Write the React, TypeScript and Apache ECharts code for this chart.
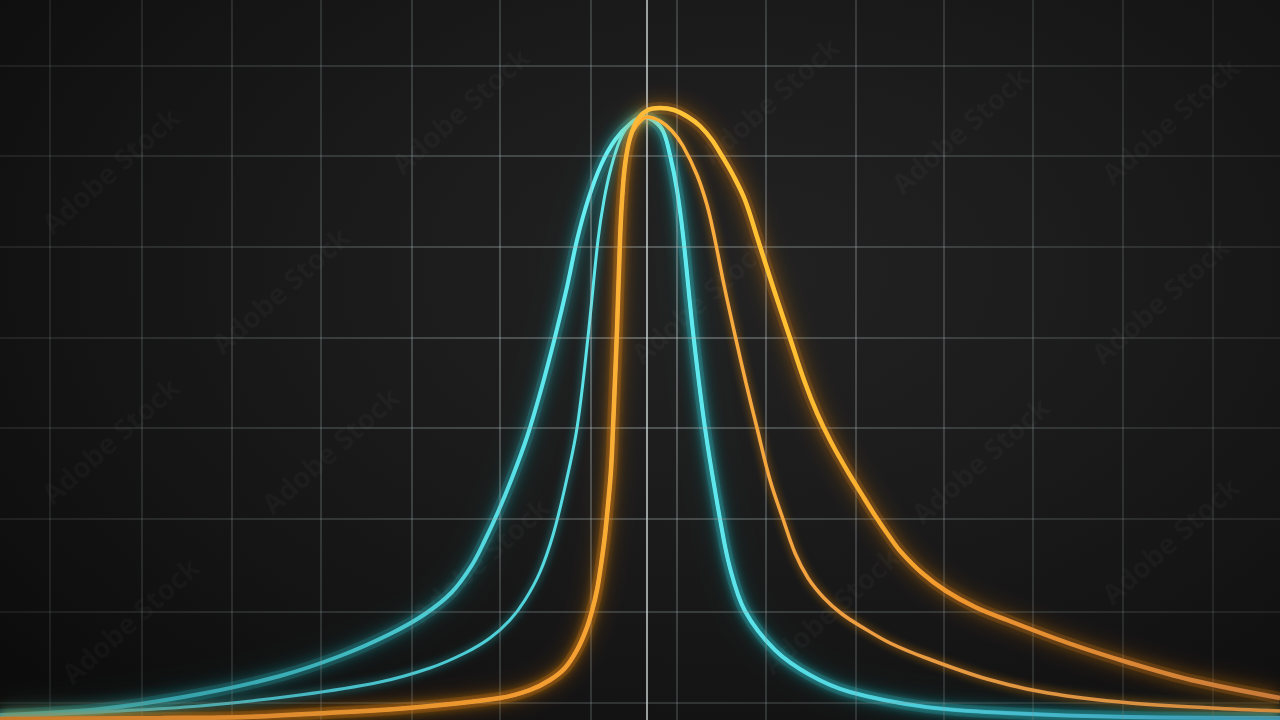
import React, { useEffect, useRef } from "react";
import * as echarts from "echarts";

// Positions: x = pixels from the left edge, y = height above the bottom edge.
const GRID_X = [50, 142, 232, 321, 412, 500, 591, 677, 766, 856, 944, 1033, 1123, 1213];
const GRID_Y = [654, 564, 473, 382, 292, 201, 108, 17];
const CENTER_X = 647;

// Cyan curves: two different left tails sharing one steep right side.
const CYAN_OUTER_LEFT: number[][] = [
  [0, 5], [100, 11], [200, 26], [280, 44], [340, 64], [390, 86], [425, 106], [452, 128],
  [472, 155], [485, 180], [498, 208], [512, 242], [527, 283], [541, 330], [555, 383],
  [567, 433], [577, 480], [588, 520], [601, 555], [615, 580], [630, 596],
];
const CYAN_INNER_LEFT: number[][] = [
  [0, 3], [100, 8], [200, 14], [300, 25], [380, 38], [430, 52], [465, 67], [490, 82],
  [510, 100], [525, 120], [540, 148], [553, 185], [565, 233], [577, 292], [588, 383],
  [598, 480], [604, 520], [611, 552], [620, 580], [630, 596],
];
const CYAN_RIGHT: number[][] = [
  [643, 603], [653, 600], [663, 589], [670, 565], [677, 530], [683, 485], [693, 388],
  [705, 292], [720, 201], [730, 152], [745, 109], [775, 70], [810, 45], [850, 28],
  [926, 13], [1007, 7], [1129, 3], [1280, 2],
];

// Orange curves: one steep left side shared by two different right tails.
const ORANGE_LEFT: number[][] = [
  [0, 1], [163, 2], [245, 3], [327, 7], [408, 12], [500, 22], [530, 30], [550, 40],
  [565, 52], [577, 70], [586, 90], [592, 109], [597, 130], [601, 155], [605, 185],
  [608, 215], [611, 250], [613, 292], [615, 340], [617, 390], [620, 480], [622, 520],
  [625, 555], [630, 582],
];
const ORANGE_INNER_RIGHT: number[][] = [
  [637, 595], [647, 603], [660, 599], [672, 589], [683, 574], [697, 545], [707, 515],
  [714, 485], [724, 435], [735, 385], [746, 337], [757, 292], [770, 240], [783, 201],
  [795, 167], [808, 142], [824, 122], [842, 106], [862, 93], [890, 77], [926, 62],
  [987, 41], [1048, 27], [1130, 17], [1211, 12], [1280, 9],
];
const ORANGE_OUTER_RIGHT: number[][] = [
  [638, 601], [648, 610], [660, 612], [674, 610], [688, 603], [700, 594], [712, 580],
  [722, 564], [733, 545], [745, 520], [758, 480], [774, 430], [790, 382], [804, 340],
  [817, 307], [831, 278], [848, 248], [864, 222], [876, 203], [889, 184], [901, 168],
  [922, 147], [946, 129], [975, 113], [1007, 100], [1068, 77], [1130, 57], [1191, 40],
  [1280, 22],
];

// Faint stock-photo watermark text, centre positions in pixels.
const WATERMARK_TEXT = "Adobe Stock";
const WATERMARK_POS: number[][] = [
  [110, 170], [280, 290], [460, 110], [770, 100], [960, 130], [1170, 120],
  [1160, 300], [110, 440], [330, 450], [700, 300], [980, 460], [1170, 540],
  [130, 620], [480, 560], [830, 610],
];

const lg = (stops: [number, string][]) =>
  new echarts.graphic.LinearGradient(0, 0, 1, 0, stops.map(([offset, color]) => ({ offset, color })));

export default function App() {
  const ref = useRef<HTMLDivElement>(null);

  useEffect(() => {
    const el = ref.current;
    if (!el) return;
    const chart = echarts.init(el, null, { renderer: "svg" });

    const gridColor = new echarts.graphic.RadialGradient(
      650,
      330,
      760,
      [
        { offset: 0, color: "rgba(190,200,200,0.5)" },
        { offset: 0.45, color: "rgba(150,162,162,0.32)" },
        { offset: 1, color: "rgba(110,120,120,0.17)" },
      ],
      true
    );

    const cyanOuter = [...CYAN_OUTER_LEFT, ...CYAN_RIGHT];
    const cyanInner = [...CYAN_INNER_LEFT, ...CYAN_RIGHT];
    const orangeInner = [...ORANGE_LEFT, ...ORANGE_INNER_RIGHT];
    const orangeOuter = [...ORANGE_LEFT, ...ORANGE_OUTER_RIGHT];

    const base = {
      type: "line",
      smooth: 0.35,
      showSymbol: false,
      symbol: "none",
      silent: true,
      emphasis: { disabled: true },
    };

    chart.setOption({
      animation: false,
      backgroundColor: "transparent",
      grid: { left: 0, right: 0, top: 0, bottom: 0 },
      xAxis: { type: "value", min: 0, max: 1280, show: false },
      yAxis: { type: "value", min: 0, max: 720, show: false },
      graphic: WATERMARK_POS.map(([x, y]) => ({
        type: "text",
        x,
        y,
        rotation: Math.PI / 4.3,
        silent: true,
        z: 0,
        style: {
          text: WATERMARK_TEXT,
          fill: "rgba(255,255,255,0.028)",
          font: "bold 28px 'Noto Sans', sans-serif",
          align: "center",
          verticalAlign: "middle",
        },
      })),
      series: [
        {
          ...base,
          name: "grid",
          data: [[0, 0]],
          lineStyle: { opacity: 0 },
          z: 1,
          markLine: {
            silent: true,
            symbol: ["none", "none"],
            label: { show: false },
            emphasis: { disabled: true },
            lineStyle: { color: gridColor, width: 1.6, type: "solid" },
            data: [
              ...GRID_X.map((v) => ({ xAxis: v })),
              ...GRID_Y.map((v) => ({ yAxis: v })),
              { xAxis: CENTER_X, lineStyle: { color: "rgba(205,214,214,0.8)", width: 1.8 } },
            ],
          },
        },
        {
          ...base,
          name: "cyan outer glow",
          data: cyanOuter,
          z: 2,
          lineStyle: {
            width: 12,
            color: "rgba(40,200,210,0.16)",
            shadowBlur: 30,
            shadowColor: "rgba(30,200,210,0.7)",
          },
        },
        {
          ...base,
          name: "orange outer glow",
          data: orangeOuter,
          z: 2,
          lineStyle: {
            width: 12,
            color: "rgba(255,150,30,0.16)",
            shadowBlur: 30,
            shadowColor: "rgba(255,130,10,0.7)",
          },
        },
        {
          ...base,
          name: "cyan outer",
          data: cyanOuter,
          z: 3,
          lineStyle: {
            width: 4,
            color: lg([
              [0, "#2f8e98"],
              [0.25, "#3cb2ba"],
              [0.42, "#5ce6ec"],
              [0.5, "#70f7f8"],
              [0.6, "#5ee6ea"],
              [0.75, "#3aaab8"],
              [1, "#3a8eae"],
            ]),
            shadowBlur: 14,
            shadowColor: "rgba(40,225,235,0.9)",
          },
        },
        {
          ...base,
          name: "cyan inner",
          data: cyanInner,
          z: 4,
          lineStyle: {
            width: 3,
            color: lg([
              [0, "#3a96a4"],
              [0.4, "#4fd2da"],
              [0.5, "#64eff2"],
              [0.7, "#50d0dc"],
              [1, "#3a90b0"],
            ]),
            shadowBlur: 8,
            shadowColor: "rgba(40,225,235,0.7)",
          },
        },
        {
          ...base,
          name: "orange inner",
          data: orangeInner,
          z: 5,
          lineStyle: {
            width: 3.5,
            color: lg([
              [0, "#b86a2a"],
              [0.4, "#f09a30"],
              [0.5, "#ffb43a"],
              [0.65, "#f0a040"],
              [1, "#d08a40"],
            ]),
            shadowBlur: 8,
            shadowColor: "rgba(255,150,30,0.75)",
          },
        },
        {
          ...base,
          name: "orange outer",
          data: orangeOuter,
          z: 6,
          lineStyle: {
            width: 4.5,
            color: lg([
              [0, "#c9782c"],
              [0.45, "#f5a030"],
              [0.52, "#ffc43a"],
              [0.62, "#ffc030"],
              [0.75, "#f0962e"],
              [1, "#c87a3a"],
            ]),
            shadowBlur: 16,
            shadowColor: "rgba(255,140,10,0.9)",
          },
        },
      ],
    });

    return () => chart.dispose();
  }, []);

  return (
    <div
      ref={ref}
      style={{
        position: "fixed",
        left: 0,
        top: 0,
        width: 1280,
        height: 720,
        background:
          "radial-gradient(ellipse 75% 85% at 58% 38%, #222222 0%, #1c1c1c 35%, #141414 70%, #0c0c0c 100%)",
      }}
    />
  );
}
